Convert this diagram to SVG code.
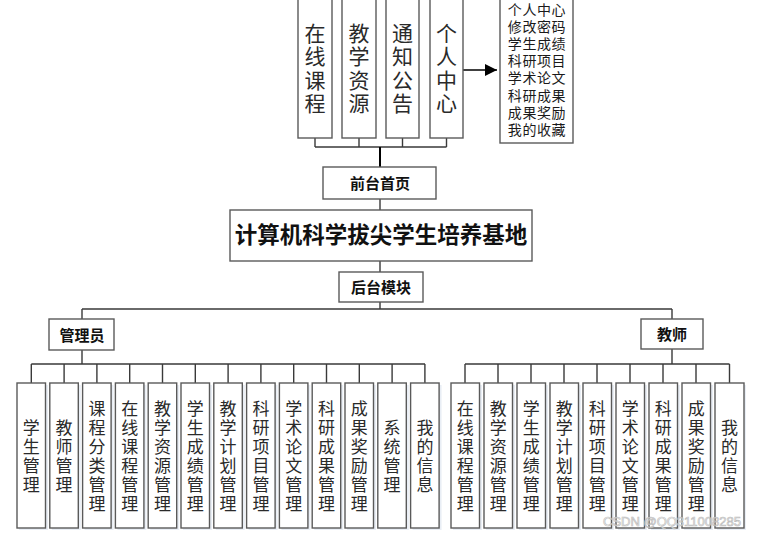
<svg xmlns="http://www.w3.org/2000/svg" width="763" height="535" viewBox="0 0 763 535">
<defs>
<style>
.box{fill:#fff;stroke:#5a5a5a;stroke-width:1.4}
.sh{fill:#e9eef5;stroke:none}
.con{fill:none;stroke:#3a3a3a;stroke-width:1.4}
.leaf{font-family:"Liberation Serif","Noto Sans CJK SC",sans-serif;font-size:17px;fill:#2a2a2a;text-anchor:middle}
.top{font-family:"Liberation Serif","Noto Sans CJK SC",sans-serif;font-size:21px;fill:#2a2a2a;text-anchor:middle}
.lst{font-family:"Liberation Sans","Noto Sans CJK SC",sans-serif;font-size:14px;fill:#1a1a1a;text-anchor:middle;letter-spacing:0.6px}
.bold{font-family:"Noto Sans CJK SC","Noto Sans",sans-serif;font-size:15px;font-weight:bold;fill:#111;text-anchor:middle}
.title{font-family:"Noto Sans CJK SC","Noto Sans",sans-serif;font-size:22.5px;font-weight:bold;fill:#111;text-anchor:middle}
.wm{font-family:"Liberation Sans",sans-serif;font-size:13px;fill:#fff;stroke:#b8b8b8;stroke-width:0.7;opacity:0.9}
</style>
<marker id="arr" markerWidth="12" markerHeight="12" refX="12" refY="6" orient="auto" markerUnits="userSpaceOnUse">
<path d="M0,0 L12,6 L0,12 Z" fill="#000"/>
</marker>
</defs>

<g id="connectors">
<path class="con" d="M315,138 V147 M359,138 V147 M402.5,138 V147 M446.5,138 V147 M315,147 H446.5"/>
<path class="con" d="M380,147 V167" style="stroke:#000;stroke-width:2"/>
<path class="con" d="M380,199 V210 M380,261 V272 M380,302 V309 M82,309 H672 M82,309 V319 M672,309 V319"/>
<path class="con" d="M82,350 V364 M31.3,364 H425 M31.3,364 V383 M64.1,364 V383 M96.9,364 V383 M129.7,364 V383 M162.5,364 V383 M195.3,364 V383 M228.1,364 V383 M260.9,364 V383 M293.7,364 V383 M326.5,364 V383 M359.3,364 V383 M392.1,364 V383 M424.9,364 V383"/>
<path class="con" d="M672,349 V364 M465,364 H729.5 M465,364 V383 M498,364 V383 M531,364 V383 M564,364 V383 M597,364 V383 M630,364 V383 M663,364 V383 M696,364 V383 M729.5,364 V383"/>
<path class="con" d="M463,70 H497" style="stroke:#000;stroke-width:1.6" marker-end="url(#arr)"/>
</g>

<g id="top-online"><rect class="box" x="298" y="-1" width="34" height="139"/><text class="top"><tspan x="315" y="41">在</tspan><tspan x="315" y="64.3">线</tspan><tspan x="315" y="87.6">课</tspan><tspan x="315" y="110.9">程</tspan></text></g>
<g id="top-resource"><rect class="box" x="342" y="-1" width="34" height="139"/><text class="top"><tspan x="359" y="41">教</tspan><tspan x="359" y="64.3">学</tspan><tspan x="359" y="87.6">资</tspan><tspan x="359" y="110.9">源</tspan></text></g>
<g id="top-notice"><rect class="box" x="386" y="-1" width="33" height="139"/><text class="top"><tspan x="402.5" y="41">通</tspan><tspan x="402.5" y="64.3">知</tspan><tspan x="402.5" y="87.6">公</tspan><tspan x="402.5" y="110.9">告</tspan></text></g>
<g id="top-personal"><rect class="box" x="430" y="-1" width="33" height="139"/><text class="top"><tspan x="446.5" y="41">个</tspan><tspan x="446.5" y="64.3">人</tspan><tspan x="446.5" y="87.6">中</tspan><tspan x="446.5" y="110.9">心</tspan></text></g>
<g id="personal-list"><rect class="box" x="500" y="-1" width="73" height="144"/><text class="lst"><tspan x="537" y="14.5">个人中心</tspan><tspan x="537" y="31.7">修改密码</tspan><tspan x="537" y="48.9">学生成绩</tspan><tspan x="537" y="66.1">科研项目</tspan><tspan x="537" y="83.3">学术论文</tspan><tspan x="537" y="100.5">科研成果</tspan><tspan x="537" y="117.7">成果奖励</tspan><tspan x="537" y="134.9">我的收藏</tspan></text></g>

<g id="frontpage"><rect class="box" x="323" y="167" width="113" height="32"/><text class="bold" x="380" y="188.5">前台首页</text></g>
<g id="main"><rect class="box" x="230" y="210" width="302" height="51"/><text class="title" x="381" y="243.3">计算机科学拔尖学生培养基地</text></g>
<g id="backend"><rect class="box" x="339" y="272" width="84" height="30"/><text class="bold" x="381" y="292.5">后台模块</text></g>
<g id="admin"><rect class="box" x="49" y="319" width="65" height="31"/><text class="bold" x="82" y="340.5">管理员</text></g>
<g id="teacher"><rect class="box" x="641" y="319" width="62" height="30"/><text class="bold" x="672" y="340">教师</text></g>

<g id="a1"><rect class="sh" x="19" y="385" width="29" height="145"/><rect class="box" x="17" y="383" width="28.5" height="145"/><text class="leaf"><tspan x="31.3" y="434">学</tspan><tspan x="31.3" y="453">生</tspan><tspan x="31.3" y="472">管</tspan><tspan x="31.3" y="491">理</tspan></text></g>
<g id="a2"><rect class="sh" x="51.8" y="385" width="29" height="145"/><rect class="box" x="49.8" y="383" width="28.5" height="145"/><text class="leaf"><tspan x="64.1" y="434">教</tspan><tspan x="64.1" y="453">师</tspan><tspan x="64.1" y="472">管</tspan><tspan x="64.1" y="491">理</tspan></text></g>
<g id="a3"><rect class="sh" x="84.6" y="385" width="29" height="145"/><rect class="box" x="82.6" y="383" width="28.5" height="145"/><text class="leaf"><tspan x="96.9" y="415">课</tspan><tspan x="96.9" y="434">程</tspan><tspan x="96.9" y="453">分</tspan><tspan x="96.9" y="472">类</tspan><tspan x="96.9" y="491">管</tspan><tspan x="96.9" y="510">理</tspan></text></g>
<g id="a4"><rect class="sh" x="117.4" y="385" width="29" height="145"/><rect class="box" x="115.4" y="383" width="28.5" height="145"/><text class="leaf"><tspan x="129.7" y="415">在</tspan><tspan x="129.7" y="434">线</tspan><tspan x="129.7" y="453">课</tspan><tspan x="129.7" y="472">程</tspan><tspan x="129.7" y="491">管</tspan><tspan x="129.7" y="510">理</tspan></text></g>
<g id="a5"><rect class="sh" x="150.2" y="385" width="29" height="145"/><rect class="box" x="148.2" y="383" width="28.5" height="145"/><text class="leaf"><tspan x="162.5" y="415">教</tspan><tspan x="162.5" y="434">学</tspan><tspan x="162.5" y="453">资</tspan><tspan x="162.5" y="472">源</tspan><tspan x="162.5" y="491">管</tspan><tspan x="162.5" y="510">理</tspan></text></g>
<g id="a6"><rect class="sh" x="183" y="385" width="29" height="145"/><rect class="box" x="181" y="383" width="28.5" height="145"/><text class="leaf"><tspan x="195.3" y="415">学</tspan><tspan x="195.3" y="434">生</tspan><tspan x="195.3" y="453">成</tspan><tspan x="195.3" y="472">绩</tspan><tspan x="195.3" y="491">管</tspan><tspan x="195.3" y="510">理</tspan></text></g>
<g id="a7"><rect class="sh" x="215.8" y="385" width="29" height="145"/><rect class="box" x="213.8" y="383" width="28.5" height="145"/><text class="leaf"><tspan x="228.1" y="415">教</tspan><tspan x="228.1" y="434">学</tspan><tspan x="228.1" y="453">计</tspan><tspan x="228.1" y="472">划</tspan><tspan x="228.1" y="491">管</tspan><tspan x="228.1" y="510">理</tspan></text></g>
<g id="a8"><rect class="sh" x="248.6" y="385" width="29" height="145"/><rect class="box" x="246.6" y="383" width="28.5" height="145"/><text class="leaf"><tspan x="260.9" y="415">科</tspan><tspan x="260.9" y="434">研</tspan><tspan x="260.9" y="453">项</tspan><tspan x="260.9" y="472">目</tspan><tspan x="260.9" y="491">管</tspan><tspan x="260.9" y="510">理</tspan></text></g>
<g id="a9"><rect class="sh" x="281.4" y="385" width="29" height="145"/><rect class="box" x="279.4" y="383" width="28.5" height="145"/><text class="leaf"><tspan x="293.7" y="415">学</tspan><tspan x="293.7" y="434">术</tspan><tspan x="293.7" y="453">论</tspan><tspan x="293.7" y="472">文</tspan><tspan x="293.7" y="491">管</tspan><tspan x="293.7" y="510">理</tspan></text></g>
<g id="a10"><rect class="sh" x="314.2" y="385" width="29" height="145"/><rect class="box" x="312.2" y="383" width="28.5" height="145"/><text class="leaf"><tspan x="326.5" y="415">科</tspan><tspan x="326.5" y="434">研</tspan><tspan x="326.5" y="453">成</tspan><tspan x="326.5" y="472">果</tspan><tspan x="326.5" y="491">管</tspan><tspan x="326.5" y="510">理</tspan></text></g>
<g id="a11"><rect class="sh" x="347" y="385" width="29" height="145"/><rect class="box" x="345" y="383" width="28.5" height="145"/><text class="leaf"><tspan x="359.3" y="415">成</tspan><tspan x="359.3" y="434">果</tspan><tspan x="359.3" y="453">奖</tspan><tspan x="359.3" y="472">励</tspan><tspan x="359.3" y="491">管</tspan><tspan x="359.3" y="510">理</tspan></text></g>
<g id="a12"><rect class="sh" x="379.8" y="385" width="29" height="145"/><rect class="box" x="377.8" y="383" width="28.5" height="145"/><text class="leaf"><tspan x="392.1" y="434">系</tspan><tspan x="392.1" y="453">统</tspan><tspan x="392.1" y="472">管</tspan><tspan x="392.1" y="491">理</tspan></text></g>
<g id="a13"><rect class="sh" x="412.6" y="385" width="29" height="145"/><rect class="box" x="410.6" y="383" width="28.5" height="145"/><text class="leaf"><tspan x="424.9" y="434">我</tspan><tspan x="424.9" y="453">的</tspan><tspan x="424.9" y="472">信</tspan><tspan x="424.9" y="491">息</tspan></text></g>

<g id="t1"><rect class="sh" x="453" y="385" width="29" height="145"/><rect class="box" x="451" y="383" width="28.5" height="145"/><text class="leaf"><tspan x="465.2" y="415">在</tspan><tspan x="465.2" y="434">线</tspan><tspan x="465.2" y="453">课</tspan><tspan x="465.2" y="472">程</tspan><tspan x="465.2" y="491">管</tspan><tspan x="465.2" y="510">理</tspan></text></g>
<g id="t2"><rect class="sh" x="486" y="385" width="29" height="145"/><rect class="box" x="484" y="383" width="28.5" height="145"/><text class="leaf"><tspan x="498.2" y="415">教</tspan><tspan x="498.2" y="434">学</tspan><tspan x="498.2" y="453">资</tspan><tspan x="498.2" y="472">源</tspan><tspan x="498.2" y="491">管</tspan><tspan x="498.2" y="510">理</tspan></text></g>
<g id="t3"><rect class="sh" x="519" y="385" width="29" height="145"/><rect class="box" x="517" y="383" width="28.5" height="145"/><text class="leaf"><tspan x="531.2" y="415">学</tspan><tspan x="531.2" y="434">生</tspan><tspan x="531.2" y="453">成</tspan><tspan x="531.2" y="472">绩</tspan><tspan x="531.2" y="491">管</tspan><tspan x="531.2" y="510">理</tspan></text></g>
<g id="t4"><rect class="sh" x="552" y="385" width="29" height="145"/><rect class="box" x="550" y="383" width="28.5" height="145"/><text class="leaf"><tspan x="564.2" y="415">教</tspan><tspan x="564.2" y="434">学</tspan><tspan x="564.2" y="453">计</tspan><tspan x="564.2" y="472">划</tspan><tspan x="564.2" y="491">管</tspan><tspan x="564.2" y="510">理</tspan></text></g>
<g id="t5"><rect class="sh" x="585" y="385" width="29" height="145"/><rect class="box" x="583" y="383" width="28.5" height="145"/><text class="leaf"><tspan x="597.2" y="415">科</tspan><tspan x="597.2" y="434">研</tspan><tspan x="597.2" y="453">项</tspan><tspan x="597.2" y="472">目</tspan><tspan x="597.2" y="491">管</tspan><tspan x="597.2" y="510">理</tspan></text></g>
<g id="t6"><rect class="sh" x="618" y="385" width="29" height="145"/><rect class="box" x="616" y="383" width="28.5" height="145"/><text class="leaf"><tspan x="630.2" y="415">学</tspan><tspan x="630.2" y="434">术</tspan><tspan x="630.2" y="453">论</tspan><tspan x="630.2" y="472">文</tspan><tspan x="630.2" y="491">管</tspan><tspan x="630.2" y="510">理</tspan></text></g>
<g id="t7"><rect class="sh" x="651" y="385" width="29" height="145"/><rect class="box" x="649" y="383" width="28.5" height="145"/><text class="leaf"><tspan x="663.2" y="415">科</tspan><tspan x="663.2" y="434">研</tspan><tspan x="663.2" y="453">成</tspan><tspan x="663.2" y="472">果</tspan><tspan x="663.2" y="491">管</tspan><tspan x="663.2" y="510">理</tspan></text></g>
<g id="t8"><rect class="sh" x="684" y="385" width="29" height="145"/><rect class="box" x="682" y="383" width="28.5" height="145"/><text class="leaf"><tspan x="696.2" y="415">成</tspan><tspan x="696.2" y="434">果</tspan><tspan x="696.2" y="453">奖</tspan><tspan x="696.2" y="472">励</tspan><tspan x="696.2" y="491">管</tspan><tspan x="696.2" y="510">理</tspan></text></g>
<g id="t9"><rect class="sh" x="717" y="385" width="29" height="145"/><rect class="box" x="715" y="383" width="29" height="145"/><text class="leaf"><tspan x="729.5" y="434">我</tspan><tspan x="729.5" y="453">的</tspan><tspan x="729.5" y="472">信</tspan><tspan x="729.5" y="491">息</tspan></text></g>

<text class="wm" x="603" y="526">CSDN @QQ311008285</text>
</svg>
